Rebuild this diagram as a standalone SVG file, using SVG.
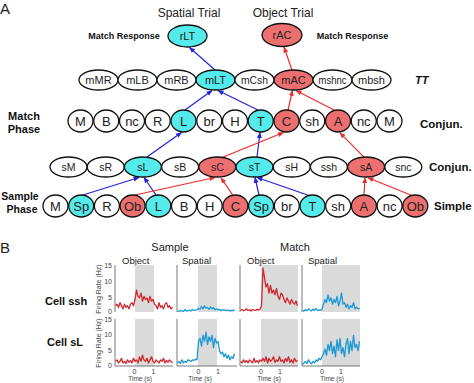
<svg xmlns="http://www.w3.org/2000/svg" width="474" height="383" viewBox="0 0 474 383">
<style>
.f{font-family:"Liberation Sans",Arial,sans-serif}
.n ellipse{stroke:#111;stroke-width:1.3;fill:#fff}
.n ellipse.c{fill:#55ebeb}
.n ellipse.r{fill:#ee6f6f}
.n text{font-family:"Liberation Sans",Arial,sans-serif;fill:#222;text-anchor:middle}
.tt text{font-size:11px}
.mp text{font-size:13px}
.sr text{font-size:10.5px}
.lb{font-family:"Liberation Sans",Arial,sans-serif;font-weight:bold;fill:#111}
.bl{stroke:#2222dd;stroke-width:1.2;fill:none;marker-end:url(#ab)}
.rl{stroke:#ee2b2b;stroke-width:1.2;fill:none;marker-end:url(#ar)}
.gr{fill:#dadada}
.ax{stroke:#555;stroke-width:0.8;fill:none}
.tr{fill:none;stroke-width:1.3;stroke-linejoin:round;vector-effect:non-scaling-stroke}
.tr.r{stroke:#d1262b}
.tr.b{stroke:#1b98d5}
.tk{font-family:"Liberation Sans",Arial,sans-serif;font-size:7px;fill:#444}
.sm{font-family:"Liberation Sans",Arial,sans-serif;fill:#222}
</style>
<defs>
<marker id="ab" markerUnits="userSpaceOnUse" markerWidth="6" markerHeight="6" refX="5.5" refY="3" orient="auto"><path d="M0,0.5 L6,3 L0,5.5 z" fill="#2222dd"/></marker>
<marker id="ar" markerUnits="userSpaceOnUse" markerWidth="6" markerHeight="6" refX="5.5" refY="3" orient="auto"><path d="M0,0.5 L6,3 L0,5.5 z" fill="#ee2b2b"/></marker>
</defs>

<text class="f" x="0" y="14" font-size="15" fill="#222">A</text>
<text class="f" x="189" y="17" font-size="12" fill="#222" text-anchor="middle">Spatial Trial</text>
<text class="f" x="283" y="17" font-size="12" fill="#222" text-anchor="middle">Object Trial</text>
<text class="lb" x="124" y="39" font-size="9" text-anchor="middle">Match Response</text>
<text class="lb" x="352.5" y="39" font-size="9" text-anchor="middle">Match Response</text>
<text class="lb" x="415" y="84" font-size="11" font-style="italic">TT</text>
<text class="lb" x="420" y="128" font-size="11.5">Conjun.</text>
<text class="lb" x="429" y="171" font-size="11.5">Conjun.</text>
<text class="lb" x="434" y="210" font-size="11.5">Simple</text>
<text class="lb" x="24" y="120" font-size="11" text-anchor="middle">Match</text>
<text class="lb" x="24" y="133" font-size="11" text-anchor="middle">Phase</text>
<text class="lb" x="20" y="200" font-size="10.5" text-anchor="middle">Sample</text>
<text class="lb" x="22" y="213" font-size="10.5" text-anchor="middle">Phase</text>

<g id="connectors">
<line class="bl" x1="215" y1="70" x2="189.5" y2="47.5"/>
<line class="bl" x1="185" y1="110" x2="212" y2="90.5"/>
<line class="bl" x1="258" y1="110" x2="218" y2="90.5"/>
<line class="bl" x1="147" y1="157" x2="181.5" y2="132.5"/>
<line class="bl" x1="257" y1="157" x2="260" y2="132.5"/>
<line class="bl" x1="83" y1="195" x2="139" y2="177.5"/>
<line class="bl" x1="156" y1="195" x2="144" y2="177.5"/>
<line class="bl" x1="259" y1="195" x2="255" y2="177.5"/>
<line class="bl" x1="309" y1="195.5" x2="257" y2="177.5"/>
<line class="rl" x1="292" y1="70" x2="284" y2="47"/>
<line class="rl" x1="288" y1="110" x2="292.5" y2="90.5"/>
<line class="rl" x1="335" y1="110.5" x2="296" y2="90.5"/>
<line class="rl" x1="222" y1="157.5" x2="283.5" y2="132.5"/>
<line class="rl" x1="364" y1="157.2" x2="340" y2="132.8"/>
<line class="rl" x1="135" y1="195" x2="215" y2="177.5"/>
<line class="rl" x1="233" y1="195.5" x2="221" y2="177.8"/>
<line class="rl" x1="364" y1="195" x2="365" y2="177.8"/>
<line class="rl" x1="412" y1="195.5" x2="368" y2="177.8"/>
</g>

<g class="n tt">
<g id="n-rLT"><ellipse class="c" cx="187.5" cy="36" rx="19.5" ry="11"/><text x="187.5" y="40">rLT</text></g>
<g id="n-rAC"><ellipse class="r" cx="282" cy="35" rx="20" ry="11.5"/><text x="282" y="39">rAC</text></g>
<g id="n-mMR"><ellipse cx="98.5" cy="80" rx="19.5" ry="10"/><text x="98.5" y="84">mMR</text></g>
<g id="n-mLB"><ellipse cx="137.5" cy="80" rx="19.5" ry="10"/><text x="137.5" y="84">mLB</text></g>
<g id="n-mRB"><ellipse cx="176.5" cy="80" rx="19.5" ry="10"/><text x="176.5" y="84">mRB</text></g>
<g id="n-mLT"><ellipse class="c" cx="215.5" cy="80" rx="19.5" ry="10"/><text x="215.5" y="84">mLT</text></g>
<g id="n-mCsh"><ellipse cx="254.5" cy="80" rx="19.5" ry="10"/><text x="254.5" y="84" textLength="27" lengthAdjust="spacingAndGlyphs">mCsh</text></g>
<g id="n-mAC"><ellipse class="r" cx="293.5" cy="80" rx="19.5" ry="10"/><text x="293.5" y="84">mAC</text></g>
<g id="n-mshnc"><ellipse cx="332.5" cy="80" rx="19.5" ry="10"/><text x="332.5" y="84" textLength="28" lengthAdjust="spacingAndGlyphs">mshnc</text></g>
<g id="n-mbsh"><ellipse cx="371.5" cy="80" rx="19.5" ry="10"/><text x="371.5" y="84">mbsh</text></g>
</g>

<g class="n mp">
<g id="n-m-M1"><ellipse cx="80.5" cy="121" rx="12.5" ry="11"/><text x="80.5" y="125.7">M</text></g>
<g id="n-m-B"><ellipse cx="106.25" cy="121" rx="12.5" ry="11"/><text x="106.25" y="125.7">B</text></g>
<g id="n-m-nc1"><ellipse cx="132" cy="121" rx="12.5" ry="11"/><text x="132" y="125.7">nc</text></g>
<g id="n-m-R"><ellipse cx="157.75" cy="121" rx="12.5" ry="11"/><text x="157.75" y="125.7">R</text></g>
<g id="n-m-L"><ellipse class="c" cx="183.5" cy="121" rx="12.5" ry="11"/><text x="183.5" y="125.7">L</text></g>
<g id="n-m-br"><ellipse cx="209.25" cy="121" rx="12.5" ry="11"/><text x="209.25" y="125.7">br</text></g>
<g id="n-m-H"><ellipse cx="235" cy="121" rx="12.5" ry="11"/><text x="235" y="125.7">H</text></g>
<g id="n-m-T"><ellipse class="c" cx="260.75" cy="121" rx="12.5" ry="11"/><text x="260.75" y="125.7">T</text></g>
<g id="n-m-C"><ellipse class="r" cx="286.5" cy="121" rx="12.5" ry="11"/><text x="286.5" y="125.7">C</text></g>
<g id="n-m-sh"><ellipse cx="312.25" cy="121" rx="12.5" ry="11"/><text x="312.25" y="125.7">sh</text></g>
<g id="n-m-A"><ellipse class="r" cx="338" cy="121" rx="12.5" ry="11"/><text x="338" y="125.7">A</text></g>
<g id="n-m-nc2"><ellipse cx="363.75" cy="121" rx="12.5" ry="11"/><text x="363.75" y="125.7">nc</text></g>
<g id="n-m-M2"><ellipse cx="389.5" cy="121" rx="12.5" ry="11"/><text x="389.5" y="125.7">M</text></g>
</g>

<g class="n sr">
<g id="n-sM"><ellipse cx="68.5" cy="167" rx="18.5" ry="10"/><text x="68.5" y="170.8">sM</text></g>
<g id="n-sR"><ellipse cx="105.7" cy="167" rx="18.5" ry="10"/><text x="105.7" y="170.8">sR</text></g>
<g id="n-sL"><ellipse class="c" cx="142.9" cy="167" rx="18.5" ry="10"/><text x="142.9" y="170.8">sL</text></g>
<g id="n-sB"><ellipse cx="180.1" cy="167" rx="18.5" ry="10"/><text x="180.1" y="170.8">sB</text></g>
<g id="n-sC"><ellipse class="r" cx="217.3" cy="167" rx="18.5" ry="10"/><text x="217.3" y="170.8">sC</text></g>
<g id="n-sT"><ellipse class="c" cx="254.5" cy="167" rx="18.5" ry="10"/><text x="254.5" y="170.8">sT</text></g>
<g id="n-sH"><ellipse cx="291.7" cy="167" rx="18.5" ry="10"/><text x="291.7" y="170.8">sH</text></g>
<g id="n-ssh"><ellipse cx="328.9" cy="167" rx="18.5" ry="10"/><text x="328.9" y="170.8">ssh</text></g>
<g id="n-sA"><ellipse class="r" cx="366.1" cy="167" rx="18.5" ry="10"/><text x="366.1" y="170.8">sA</text></g>
<g id="n-snc"><ellipse cx="403.3" cy="167" rx="18.5" ry="10"/><text x="403.3" y="170.8">snc</text></g>
</g>

<g class="n mp">
<g id="n-s-M"><ellipse cx="55.5" cy="206" rx="12.5" ry="11"/><text x="55.5" y="210.7">M</text></g>
<g id="n-s-Sp1"><ellipse class="c" cx="81.2" cy="206" rx="12.5" ry="11"/><text x="81.2" y="210.7">Sp</text></g>
<g id="n-s-R"><ellipse cx="106.9" cy="206" rx="12.5" ry="11"/><text x="106.9" y="210.7">R</text></g>
<g id="n-s-Ob1"><ellipse class="r" cx="132.6" cy="206" rx="12.5" ry="11"/><text x="132.6" y="210.7">Ob</text></g>
<g id="n-s-L"><ellipse class="c" cx="158.3" cy="206" rx="12.5" ry="11"/><text x="158.3" y="210.7">L</text></g>
<g id="n-s-B"><ellipse cx="184" cy="206" rx="12.5" ry="11"/><text x="184" y="210.7">B</text></g>
<g id="n-s-H"><ellipse cx="209.7" cy="206" rx="12.5" ry="11"/><text x="209.7" y="210.7">H</text></g>
<g id="n-s-C"><ellipse class="r" cx="235.4" cy="206" rx="12.5" ry="11"/><text x="235.4" y="210.7">C</text></g>
<g id="n-s-Sp2"><ellipse class="c" cx="261.1" cy="206" rx="12.5" ry="11"/><text x="261.1" y="210.7">Sp</text></g>
<g id="n-s-br"><ellipse cx="286.8" cy="206" rx="12.5" ry="11"/><text x="286.8" y="210.7">br</text></g>
<g id="n-s-T"><ellipse class="c" cx="312.5" cy="206" rx="12.5" ry="11"/><text x="312.5" y="210.7">T</text></g>
<g id="n-s-sh"><ellipse cx="338.2" cy="206" rx="12.5" ry="11"/><text x="338.2" y="210.7">sh</text></g>
<g id="n-s-A"><ellipse class="r" cx="363.9" cy="206" rx="12.5" ry="11"/><text x="363.9" y="210.7">A</text></g>
<g id="n-s-nc"><ellipse cx="389.6" cy="206" rx="12.5" ry="11"/><text x="389.6" y="210.7">nc</text></g>
<g id="n-s-Ob2"><ellipse class="r" cx="415.3" cy="206" rx="12.5" ry="11"/><text x="415.3" y="210.7">Ob</text></g>
</g>

<!-- Panel B -->
<text class="f" x="0" y="253" font-size="15" fill="#222">B</text>
<text class="sm" x="170" y="251" font-size="11" text-anchor="middle">Sample</text>
<text class="sm" x="295" y="251" font-size="11" text-anchor="middle">Match</text>
<text class="sm" x="122" y="264" font-size="9.5">Object</text>
<text class="sm" x="182" y="264" font-size="9.5">Spatial</text>
<text class="sm" x="247" y="264" font-size="9.5">Object</text>
<text class="sm" x="308" y="264" font-size="9.5">Spatial</text>
<text class="lb" x="45" y="305" font-size="11">Cell ssh</text>
<text class="lb" x="47" y="346" font-size="11">Cell sL</text>

<g id="plots">
<rect class="gr" x="135" y="265" width="19" height="47"/>
<rect class="gr" x="198" y="265" width="19" height="47"/>
<rect class="gr" x="261" y="265" width="37" height="47"/>
<rect class="gr" x="322" y="265" width="38" height="47"/>
<rect class="gr" x="135" y="319" width="19" height="47"/>
<rect class="gr" x="198" y="319" width="19" height="47"/>
<rect class="gr" x="261" y="319" width="37" height="47"/>
<rect class="gr" x="322" y="319" width="38" height="47"/>
<path class="ax" d="M115,265 V312 M177,265 V312 M240,265 V312 M302,265 V312 M115,319 V366 H173 M177,319 V366 H237 M240,319 V366 H298 M302,319 V366 H360"/>

<polyline class="tr r" transform="translate(115.5,312) scale(1.5,-3.13)" points="0,2 1,2.5 2,1.5 3,3 4,2 5,1 6,2.5 7,1.5 8,2 9,1 10,2.5 11,3 12,2 13,4 14,7 15,5 16,4.5 17,6 18,3.5 19,5 20,4 21,4.5 22,3 23,5 24,3.5 25,4 26,2.5 27,2 28,1 29,3 30,1.5 31,2 32,1 33,2.5 34,3 35,1.5 36,2 37,1 38,1.5"/>
<polyline class="tr b" transform="translate(177.5,312) scale(1.5,-3.13)" points="0,0.3 1,0.2 2,0.5 3,0.3 4,0.2 5,0.8 6,0.3 7,0.4 8,0.6 9,0.3 10,0.8 11,0.5 12,0.6 13,0.7 14,1.2 15,0.9 16,1.8 17,1 18,2 19,1.2 20,1.5 21,0.8 22,1.6 23,1 24,1.4 25,0.7 26,1 27,0.6 28,0.9 29,0.4 30,0.8 31,0.5 32,0.7 33,0.4 34,0.6 35,0.3 36,0.5 37,0.4 38,0.8"/>
<polyline class="tr r" transform="translate(240.5,312) scale(1.5,-3.13)" points="0,0.5 1,0.8 2,0.4 3,0.6 4,1 5,0.5 6,0.7 7,0.3 8,0.8 9,0.6 10,0.5 11,0.9 12,0.6 13,0.8 14,2 15,14 16,11 17,8 18,9 19,6 20,8.5 21,6 22,7 23,5.5 24,7.5 25,5 26,4 27,6 28,5.5 29,4 30,3 31,4.5 32,3.5 33,2.5 34,4 35,3 36,2.5 37,3.5 38,2"/>
<polyline class="tr b" transform="translate(302.5,312) scale(1.5,-3.13)" points="0,0.5 1,0.3 2,0.8 3,0.4 4,1 5,0.6 6,0.3 7,0.9 8,0.5 9,1.2 10,0.4 11,0.7 12,0.5 13,0.9 14,2.5 15,4 16,3 17,5.5 18,3.5 19,4.5 20,2.5 21,4 22,3 23,5 24,2 25,3.5 26,6 27,2.5 28,3 29,1.5 30,2.5 31,1 32,2 33,1.5 34,3 35,1 36,1.5 37,1 38,1.2"/>
<polyline class="tr r" transform="translate(115.5,366) scale(1.5,-3.07)" points="0,1.5 1,2 2,1 3,1.5 4,2.5 5,1 6,1.5 7,0.8 8,2 9,1.2 10,1.8 11,1 12,2.5 13,1.5 14,2 15,1 16,3 17,1.5 18,3.5 19,2 20,1.5 21,2.5 22,1 23,2 24,3 25,1.5 26,1 27,2 28,1.5 29,1 30,2 31,1.5 32,2.5 33,1 34,1.8 35,1.2 36,2 37,1.5 38,1"/>
<polyline class="tr b" transform="translate(177.5,366) scale(1.5,-3.07)" points="0,1 1,1.5 2,0.8 3,2 4,1 5,1.5 6,1.2 7,2 8,1.8 9,1.5 10,2 11,1.8 12,2.2 13,2 14,8 15,9 16,6.5 17,10 18,8 19,11 20,7 21,9.5 22,8 23,10 24,6 25,9 26,7.5 27,8 28,5 29,4 30,4.5 31,3 32,4 33,2.5 34,3.5 35,2 36,3 37,2.5 38,4"/>
<polyline class="tr r" transform="translate(240.5,366) scale(1.5,-3.07)" points="0,1.5 1,1 2,2 3,1.2 4,1.8 5,1 6,2 7,1.5 8,1 9,2.5 10,1.2 11,1.8 12,1 13,2 14,1.5 15,2.5 16,1.5 17,3 18,1 19,2.5 20,1.5 21,2 22,3 23,1.2 24,2 25,1.5 26,3 27,1.5 28,2 29,1 30,2.5 31,1.5 32,3 33,1.2 34,2 35,1 36,2.5 37,1.5 38,1.8"/>
<polyline class="tr b" transform="translate(302.5,366) scale(1.5,-3.07)" points="0,0.5 1,1 2,1.5 3,0.8 4,2 5,1.2 6,0.7 7,1.5 8,1 9,2 10,1.5 11,2.5 12,2 13,3 14,4 15,5.5 16,3.5 17,7 18,5 19,8 20,4 21,6.5 22,3 23,8.5 24,5 25,9 26,4 27,6 28,3 29,7 30,9 31,4 32,8 33,5 34,10 35,6 36,7 37,5 38,8"/>

<g class="tk" text-anchor="end">
<text x="112" y="268">15</text><text x="112" y="284">10</text><text x="112" y="300">5</text><text x="112" y="314">0</text>
<text x="112" y="322">15</text><text x="112" y="337">10</text><text x="112" y="353">5</text><text x="112" y="368">0</text>
</g>
<text class="tk" font-size="6" text-anchor="middle" transform="translate(101,289) rotate(-90)">Firing Rate (Hz)</text>
<text class="tk" font-size="6" text-anchor="middle" transform="translate(101,343) rotate(-90)">Firing Rate (Hz)</text>
<g class="tk" text-anchor="middle">
<text x="134.5" y="374">0</text><text x="153.5" y="374">1</text><text x="140" y="381" font-size="6.5">Time (s)</text>
<text x="198.5" y="374">0</text><text x="218" y="374">1</text><text x="200" y="381" font-size="6.5">Time (s)</text>
<text x="261" y="374">0</text><text x="280" y="374">1</text><text x="269" y="381" font-size="6.5">Time (s)</text>
<text x="322" y="374">0</text><text x="341" y="374">1</text><text x="332" y="381" font-size="6.5">Time (s)</text>
</g>
</g>
</svg>
